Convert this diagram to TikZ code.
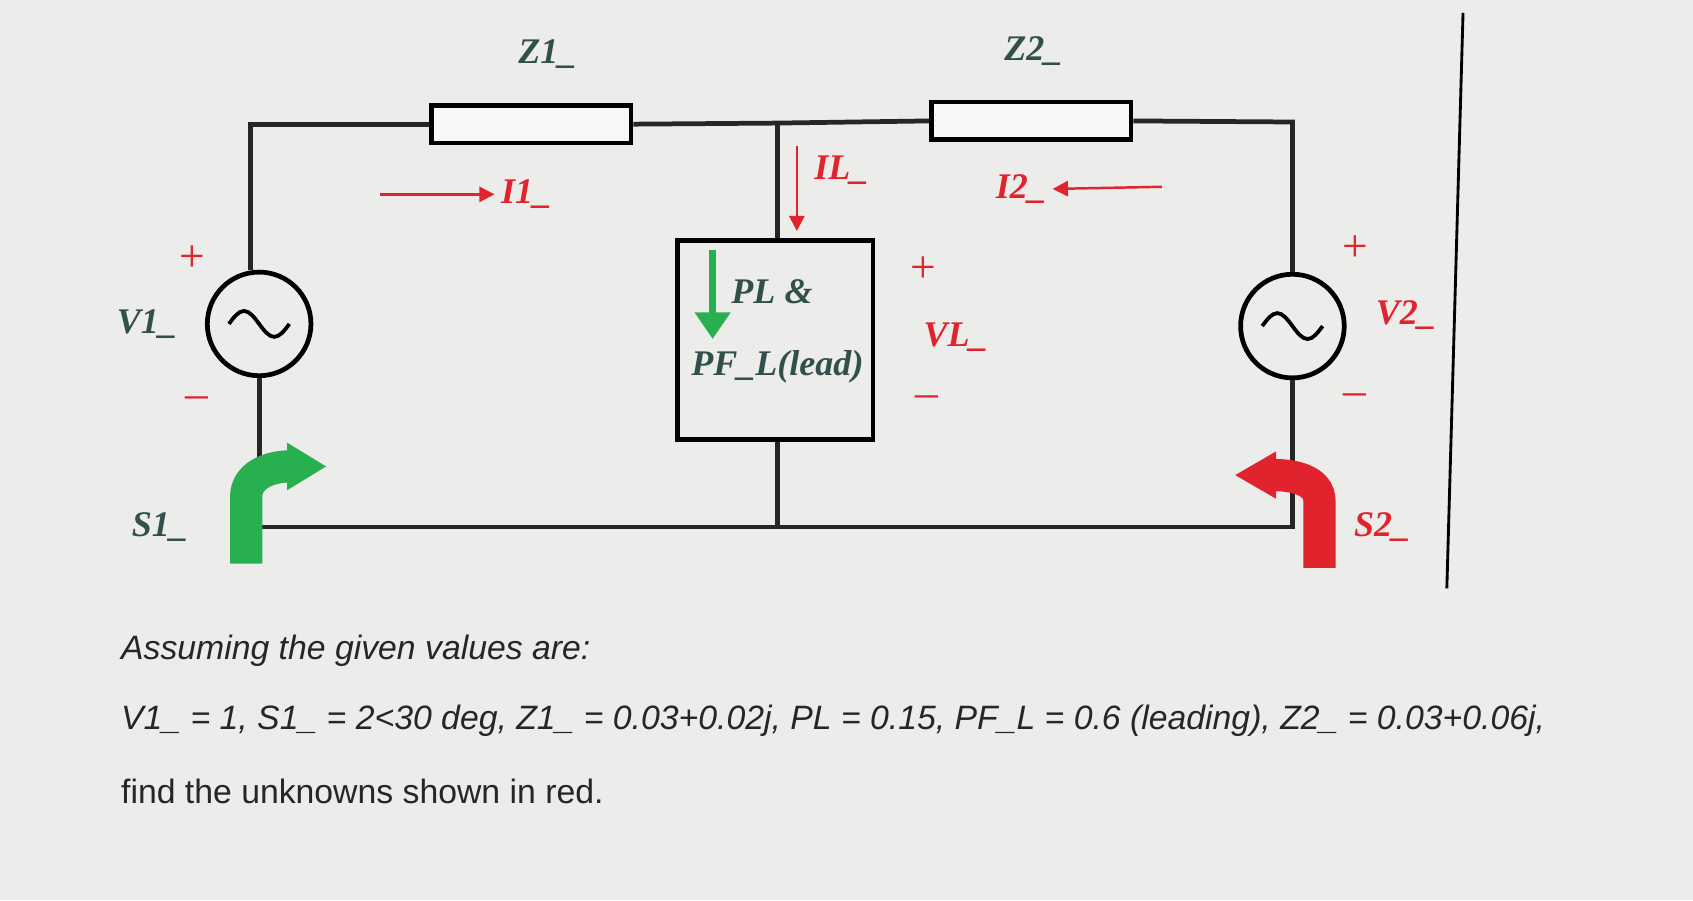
\documentclass[tikz,border=0pt]{standalone}
\usepackage{fontspec}
\setmainfont{Liberation Serif}
\newfontfamily\txtfont{Liberation Sans}
\usetikzlibrary{arrows.meta}
\definecolor{bg}{RGB}{236,236,234}
\definecolor{lbl}{RGB}{50,80,75}
\definecolor{rd}{RGB}{225,35,45}
\definecolor{gr}{RGB}{40,175,80}
\tikzset{
 wire/.style={line width=2.5pt,black!85},
 lab/.style={font=\fontsize{19}{22}\selectfont\bfseries\itshape,text=lbl},
 rlab/.style={font=\fontsize{19}{22}\selectfont\bfseries\itshape,text=rd},
 pm/.style={font=\fontsize{24}{26}\selectfont,text=rd},
 res/.style={draw,line width=2.5pt,minimum width=3.7cm,minimum height=0.7cm,fill=white!60!bg},
 src/.style={draw,circle,line width=2.5pt,minimum size=1.92cm},
 txt/.style={font=\txtfont\fontsize{17.8}{20}\selectfont,anchor=west,text=black!85},
 rarr/.style={rd,line width=1.3pt,-{Triangle[length=8pt,width=8pt]}},
}
\begin{document}
\begin{tikzpicture}[x=0.02cm,y=-0.02cm]
\fill[bg] (0,0) rectangle (1568,834);
\useasboundingbox (0,0) rectangle (1568,834);
% nodes
\node[res] (z1) at (492,115) {};
\node[res] (z2) at (955,112) {};
\node[src] (s1) at (240,300) {};
\node[src] (s2) at (1197,302) {};
\draw[line width=2pt] (s1.center)++(-28,0) sin ++(14,-12) cos ++(14,12) sin ++(14,12) cos ++(14,-12);
\draw[line width=2pt] (s2.center)++(-28,0) sin ++(14,-12) cos ++(14,12) sin ++(14,12) cos ++(14,-12);
\node[draw,line width=2.5pt,minimum width=3.62cm,minimum height=3.68cm] (ld) at (718,315) {};
\coordinate (tl) at (232,115);
\coordinate (tr) at (1197,113);
\coordinate (bl) at (245,488);
\coordinate (br) at (1197,488);
\coordinate (tm) at (720,114);
\coordinate (bm) at (720,488);
% wires
\draw[wire] (s1.north -| tl) -- (tl) -- (z1.west);
\draw[wire] (z1.east) -- (tm) -- (z2.west);
\draw[wire] (z2.east) -- (tr) -- (s2.north);
\draw[wire] (s1.south) -- (240,488) -- (br) -- (s2.south);
\draw[wire] (tm) -- (ld.north -| tm);
\draw[wire] (ld.south -| bm) -- (bm);
% power arrows
\draw[gr,line width=17pt] (228,522) -- (228,460) to[out=90,in=180] (268,432);
\fill[gr] (266,410) -- (302,432) -- (266,454) -- cycle;
\draw[rd,line width=17pt] (1222,526) -- (1222,464) to[out=90,in=0] (1180,440);
\fill[rd] (1182,418) -- (1144,440) -- (1182,462) -- cycle;
% labels
\node[lab] (lz1) at (507,50) {Z1\_};
\node[lab] (lz2) at (957,47) {Z2\_};
\node[rlab,anchor=west] (li1) at (458,180) {I1\_};
\coordinate (a1) at (352,180);
\draw[rarr] (a1) -- (li1.west);
\node[rlab,anchor=west] (lil) at (748,158) {IL\_};
\coordinate (a2) at (738,135);
\coordinate (a2e) at (738,214);
\draw[rarr] (a2) -- (a2e);
\node[rlab,anchor=east] (li2) at (975,175) {I2\_};
\coordinate (a3) at (1076,173);
\draw[rarr] (a3) -- (li2.east);
\node[lab] (lv1) at (136,300) {V1\_};
\node[pm] (p1) at (178,240) {+};
\node[pm] (m1) at (182,373) {--};
\node[rlab] (lv2) at (1302,292) {V2\_};
\node[pm] (p2) at (1255,230) {+};
\node[pm] (m2) at (1255,370) {--};
\node[rlab] (lvl) at (885,312) {VL\_};
\node[pm] (p3) at (855,250) {+};
\node[pm] (m3) at (858,372) {--};
\node[lab] (ls1) at (148,488) {S1\_};
\node[rlab] (ls2) at (1280,488) {S2\_};
\node[lab] (pl) at (715,270) {PL \&};
\node[lab] (pf) at (720,340) {PF\_L(lead)};
\coordinate (g1) at (660,232);
\coordinate (g2) at (660,314);
\draw[gr,line width=4pt,-{Triangle[length=14pt,width=18pt]}] (g1) -- (g2);
% vertical line
\draw[line width=1.5pt] (1355,12) -- (1340,545);
% text
\node[txt,font=\txtfont\itshape\fontsize{17.8}{20}\selectfont] (t1) at (106,603) {Assuming the given values are:};
\node[txt,font=\txtfont\itshape\fontsize{17.8}{20}\selectfont] (t2) at (106,668) {V1\_ = 1, S1\_ = 2<30 deg, Z1\_ = 0.03+0.02j, PL = 0.15, PF\_L = 0.6 (leading), Z2\_ = 0.03+0.06j,};
\node[txt] (t3) at (106,733) {find the unknowns shown in red.};
\end{tikzpicture}
\end{document}
